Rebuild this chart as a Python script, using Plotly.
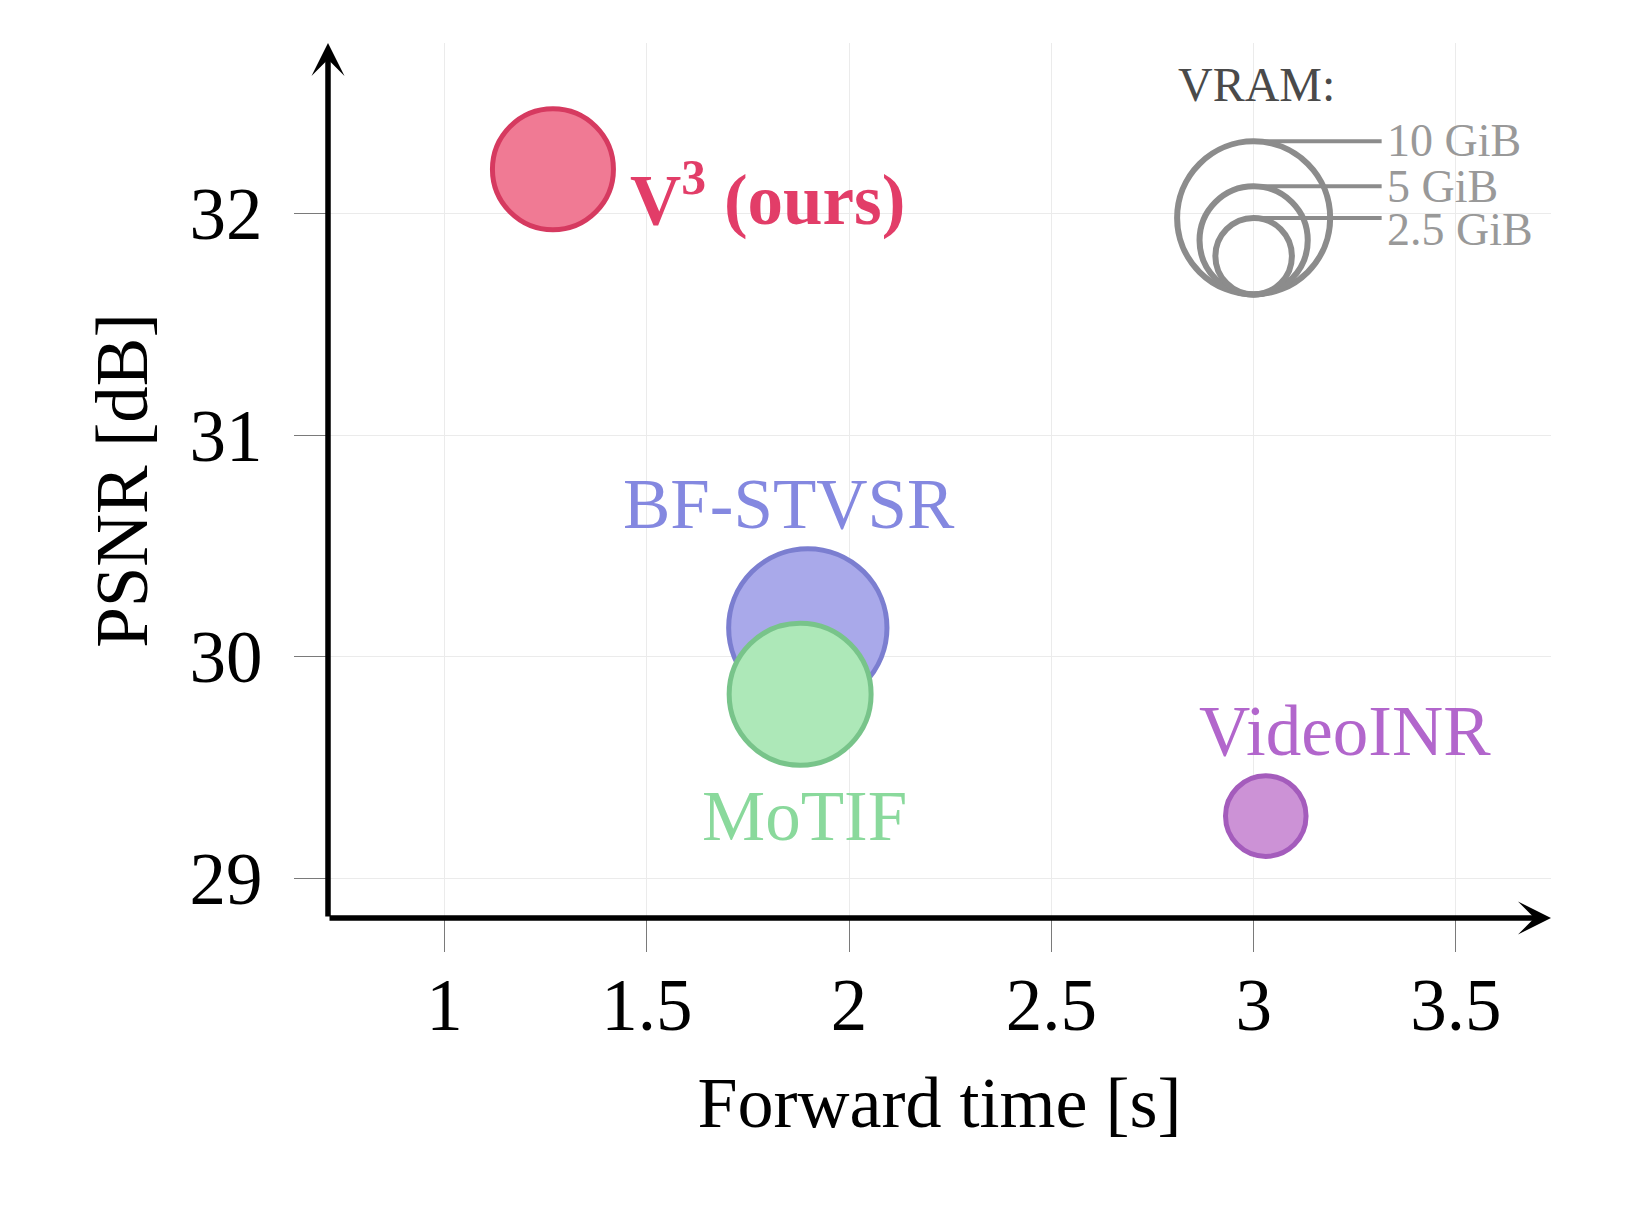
import plotly.graph_objects as go

# data
methods = ["V<sup>3</sup> (ours)", "BF-STVSR", "MoTIF", "VideoINR"]
forward_time = [1.268, 1.898, 1.879, 3.03]   # s
psnr = [32.20, 30.13, 29.83, 29.28]           # dB
vram = [6.25, 10.7, 8.6, 2.77]                # GiB

x_ticks = [1, 1.5, 2, 2.5, 3, 3.5]
y_ticks = [29, 30, 31, 32]

legend_vram = [10, 5, 2.5]
legend_labels = ["10 GiB", "5 GiB", "2.5 GiB"]
legend_pos = (3.0, 31.635)  # bottom of the key circles

fill_colors = ["#f07a94", "#a9a9ea", "#ade8b8", "#cc92d6"]
line_colors = ["#d63a60", "#7b7ed0", "#78c48a", "#a45cbc"]
text_colors = ["#e23d68", "#8488e0", "#8ad99c", "#b266cc"]
# label offsets (px) from the bubble centre
label_anchor = ["left", "center", "center", "center"]
label_dx = [75, -19, 4, 79]
label_dy = [-26, 124, -122, 85]

FONT = "Liberation Serif"
px_per_sqrt_gib = 48.4  # bubble diameter per sqrt(GiB)

x_range = [0.712, 3.735]
y_range = [28.82, 32.77]

fig = go.Figure()

fig.add_trace(go.Scatter(
    x=forward_time, y=psnr, mode="markers",
    marker=dict(
        size=vram, sizemode="area", sizeref=2 / px_per_sqrt_gib**2,
        color=fill_colors, line=dict(color=line_colors, width=5), opacity=1,
    ),
    showlegend=False, hoverinfo="skip",
))

# method labels
for i, name in enumerate(methods):
    txt = f"<b>{name}</b>" if i == 0 else name
    fig.add_annotation(
        x=forward_time[i], y=psnr[i], text=txt, showarrow=False,
        xanchor=label_anchor[i], yanchor="middle",
        xshift=label_dx[i], yshift=label_dy[i],
        font=dict(family=FONT, size=71, color=text_colors[i]),
    )

# VRAM key: nested circles sitting on a common bottom point
for v, lab, off in zip(legend_vram, legend_labels, [1, 0, -12]):
    d = px_per_sqrt_gib * v ** 0.5
    fig.add_shape(
        type="circle", xref="x", yref="y",
        xsizemode="pixel", ysizemode="pixel",
        xanchor=legend_pos[0], yanchor=legend_pos[1],
        x0=-d / 2, x1=d / 2, y0=0, y1=d,
        line=dict(color="#8c8c8c", width=6), fillcolor="rgba(0,0,0,0)",
    )
    fig.add_shape(
        type="line", xref="x", yref="y",
        xsizemode="pixel", ysizemode="pixel",
        xanchor=legend_pos[0], yanchor=legend_pos[1],
        x0=0, x1=128, y0=d, y1=d,
        line=dict(color="#8c8c8c", width=4),
    )
    fig.add_annotation(
        x=legend_pos[0], y=legend_pos[1], text=lab, showarrow=False,
        xanchor="left", yanchor="middle", xshift=131, yshift=d + off,
        font=dict(family=FONT, size=46, color="#999999"),
    )

fig.add_annotation(
    x=legend_pos[0], y=legend_pos[1], text="VRAM:", showarrow=False,
    xanchor="center", yanchor="middle", xshift=3, yshift=210,
    font=dict(family=FONT, size=48, color="#4a4a4a"),
)

# axis arrows
fig.add_annotation(
    x=x_range[1], y=y_range[0], ax=x_range[0], ay=y_range[0],
    xref="x", yref="y", axref="x", ayref="y", text="",
    showarrow=True, arrowhead=3, arrowwidth=5.5, arrowsize=1, arrowcolor="black",
)
fig.add_annotation(
    x=x_range[0], y=y_range[1], ax=x_range[0], ay=y_range[0],
    xref="x", yref="y", axref="x", ayref="y", text="",
    showarrow=True, arrowhead=3, arrowwidth=5.5, arrowsize=1, arrowcolor="black",
)

axis_common = dict(
    showgrid=True, gridcolor="#ebebeb", gridwidth=1.2, zeroline=False,
    showline=False, ticks="outside", tickcolor="#7a7a7a", tickwidth=1.2,
    tickfont=dict(family=FONT, size=73, color="black"),
)
fig.update_xaxes(
    range=x_range, tickvals=x_ticks, ticktext=[f"{t:g}" for t in x_ticks],
    ticklen=33, ticklabelstandoff=-10,
    title=dict(text="Forward time [s]", font=dict(family=FONT, size=72, color="black"), standoff=32),
    **axis_common,
)
fig.update_yaxes(
    range=y_range, tickvals=y_ticks, ticktext=[str(t) for t in y_ticks],
    ticklen=33, ticklabelstandoff=17,
    title=dict(text="PSNR [dB]", font=dict(family=FONT, size=73, color="black"), standoff=17),
    **axis_common,
)

fig.update_layout(
    width=1648, height=1212, autosize=False,
    margin=dict(l=320, r=105, t=35, b=302),
    plot_bgcolor="white", paper_bgcolor="white",
)

fig.write_html("out.html")
